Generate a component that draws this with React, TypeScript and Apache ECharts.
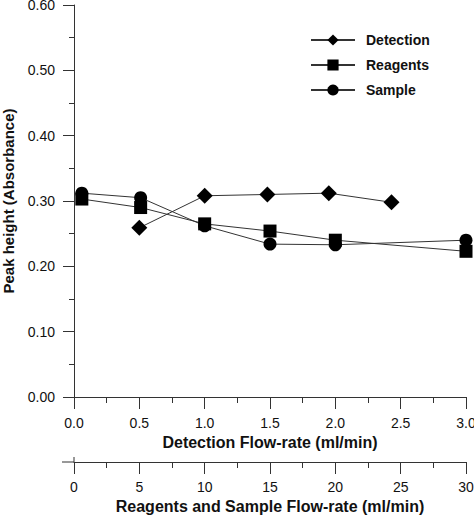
import React, { useEffect, useRef } from "react";
import * as echarts from "echarts";

const detectionX = [0.5, 1.0, 1.48, 1.95, 2.43];
const detectionY = [0.259, 0.308, 0.31, 0.312, 0.298];
const flowX = [0.6, 5.1, 10, 15, 20, 30];
const reagentsY = [0.303, 0.29, 0.265, 0.254, 0.24, 0.223];
const sampleY = [0.312, 0.305, 0.262, 0.234, 0.233, 0.24];
const seriesNames = ["Detection", "Reagents", "Sample"];
const yTitle = "Peak height (Absorbance)";
const x1Title = "Detection Flow-rate (ml/min)";
const x2Title = "Reagents and Sample Flow-rate (ml/min)";

const FONT = "'Liberation Sans', Arial, Helvetica, sans-serif";
const INK = "#111";

export default function App() {
  const ref = useRef<HTMLDivElement>(null);
  useEffect(() => {
    const chart = echarts.init(ref.current!, null, { renderer: "svg" });
    const axisCommon = {
      axisLine: { show: true, onZero: false, lineStyle: { color: "#333", width: 1 } },
      splitLine: { show: false },
      axisLabel: { color: INK, fontSize: 14, fontFamily: FONT, margin: 19 },
      nameTextStyle: { color: INK, fontSize: 16, fontWeight: "bold", fontFamily: FONT },
      nameLocation: "middle",
    };
    chart.setOption({
      animation: false,
      backgroundColor: "#fff",
      grid: { left: 74, right: 8, top: 5, bottom: 118, containLabel: false, outerBoundsMode: "none" },
      legend: {
        orient: "vertical",
        left: 305,
        top: 28,
        itemWidth: 44,
        itemHeight: 14,
        itemGap: 11,
        data: seriesNames,
        textStyle: { color: INK, fontSize: 14, fontWeight: "bold", fontFamily: FONT, padding: [0, 0, 0, 6] },
      },
      xAxis: [
        {
          ...axisCommon,
          type: "value",
          min: 0,
          max: 3,
          interval: 0.5,
          position: "bottom",
          name: x1Title,
          nameGap: 37,
          axisTick: { show: true, length: 12, lineStyle: { color: "#333" } },
          minorTick: { show: true, splitNumber: 2, length: 6, lineStyle: { color: "#333" } },
          axisLabel: { ...axisCommon.axisLabel, formatter: (v: number) => v.toFixed(1) },
        },
        {
          ...axisCommon,
          type: "value",
          min: 0,
          max: 30,
          interval: 5,
          position: "bottom",
          offset: 65,
          name: x2Title,
          nameGap: 31,
          axisTick: { show: true, length: 12, lineStyle: { color: "#333" } },
          minorTick: { show: true, splitNumber: 2, length: 6, lineStyle: { color: "#333" } },
          axisLabel: { ...axisCommon.axisLabel, margin: 18, formatter: (v: number) => String(v) },
        },
      ],
      yAxis: {
        ...axisCommon,
        type: "value",
        min: 0,
        max: 0.6,
        interval: 0.1,
        name: yTitle,
        nameGap: 58,
        nameTextStyle: { ...axisCommon.nameTextStyle, fontSize: 15 },
        axisTick: { show: true, length: 11, lineStyle: { color: "#333" } },
        minorTick: { show: true, splitNumber: 2, length: 5, lineStyle: { color: "#333" } },
        axisLabel: { ...axisCommon.axisLabel, formatter: (v: number) => v.toFixed(2) },
      },
      graphic: [
        { type: "line", shape: { x1: 62, y1: 462, x2: 74, y2: 462 }, style: { stroke: "#333", lineWidth: 1 } },
        { type: "line", shape: { x1: 74, y1: 457, x2: 74, y2: 462 }, style: { stroke: "#333", lineWidth: 1 } },
      ],
      series: [
        {
          name: seriesNames[0],
          type: "line",
          xAxisIndex: 0,
          data: detectionX.map((x, i) => [x, detectionY[i]]),
          symbol: "diamond",
          symbolSize: 16,
          lineStyle: { color: "#333", width: 1 },
          itemStyle: { color: "#000" },
          z: 3,
        },
        {
          name: seriesNames[1],
          type: "line",
          xAxisIndex: 1,
          data: flowX.map((x, i) => [x, reagentsY[i]]),
          symbol: "rect",
          symbolSize: 13,
          lineStyle: { color: "#333", width: 1 },
          itemStyle: { color: "#000" },
          z: 2,
        },
        {
          name: seriesNames[2],
          type: "line",
          xAxisIndex: 1,
          data: flowX.map((x, i) => [x, sampleY[i]]),
          symbol: "circle",
          symbolSize: 13,
          lineStyle: { color: "#333", width: 1 },
          itemStyle: { color: "#000" },
          z: 2,
        },
      ],
    });
    return () => chart.dispose();
  }, []);
  return (
    <div
      ref={ref}
      style={{ position: "absolute", left: 0, top: 0, width: 474, height: 515, background: "#fff" }}
    />
  );
}
